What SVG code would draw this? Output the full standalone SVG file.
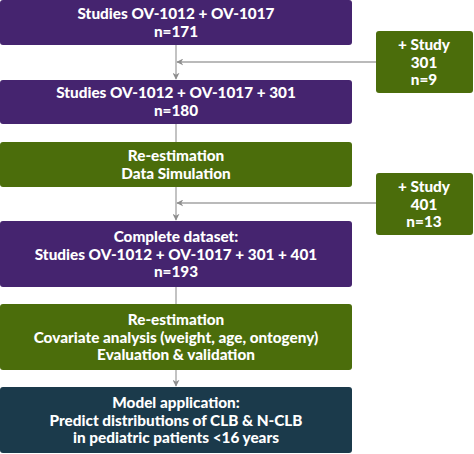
<svg xmlns="http://www.w3.org/2000/svg" width="474" height="454" viewBox="0 0 474 454">
<style>
text{font-family:Lato,"Open Sans",sans-serif;font-weight:900;font-size:15.3px;fill:#ffffff;text-anchor:middle}
.p{fill:#45246F}
.g{fill:#4B6D0B}
.d{fill:#1B3A4B}
.c{stroke:#A3A3A3;stroke-width:1.3;fill:none}
</style>
<defs>
<marker id="ah" viewBox="0 0 10 10" refX="9" refY="5" markerWidth="7" markerHeight="7" orient="auto" markerUnits="userSpaceOnUse">
<path d="M0,0 L10,5 L0,10 L3,5 Z" fill="#8E8E8E"/>
</marker>
</defs>
<rect width="474" height="454" fill="#ffffff"/>
<g id="connectors">
<line class="c" x1="176" y1="45" x2="176" y2="79" marker-end="url(#ah)"/>
<line class="c" x1="376" y1="62" x2="177" y2="62" marker-end="url(#ah)"/>
<line class="c" x1="176" y1="124" x2="176" y2="142"/>
<line class="c" x1="176" y1="187" x2="176" y2="220" marker-end="url(#ah)"/>
<line class="c" x1="376" y1="203" x2="177" y2="203" marker-end="url(#ah)"/>
<line class="c" x1="176" y1="287" x2="176" y2="304"/>
<line class="c" x1="176" y1="370" x2="176" y2="386" marker-end="url(#ah)"/>
</g>
<g id="n1"><rect class="p" x="0" y="0" width="352" height="45" rx="3"/>
<text x="176" y="19">Studies OV-1012 + OV-1017</text><text x="176" y="37">n=171</text></g>
<g id="s301"><rect class="g" x="376" y="31" width="97" height="62" rx="3"/>
<text x="424" y="50">+ Study</text><text x="424" y="67.5">301</text><text x="424" y="85">n=9</text></g>
<g id="n2"><rect class="p" x="0" y="80" width="352" height="44" rx="3"/>
<text x="176" y="98">Studies OV-1012 + OV-1017 + 301</text><text x="176" y="116">n=180</text></g>
<g id="n3"><rect class="g" x="0" y="142" width="352" height="45" rx="3"/>
<text x="176" y="161">Re-estimation</text><text x="176" y="178.5">Data Simulation</text></g>
<g id="s401"><rect class="g" x="376" y="173" width="97" height="62" rx="3"/>
<text x="424" y="192">+ Study</text><text x="424" y="209.5">401</text><text x="424" y="227">n=13</text></g>
<g id="n4"><rect class="p" x="0" y="221" width="352" height="66" rx="3"/>
<text x="176" y="242">Complete dataset:</text><text x="176" y="259.5">Studies OV-1012 + OV-1017 + 301 + 401</text><text x="176" y="277">n=193</text></g>
<g id="n5"><rect class="g" x="0" y="304" width="352" height="66" rx="3"/>
<text x="176" y="325">Re-estimation</text><text x="176" y="342.5">Covariate analysis (weight, age, ontogeny)</text><text x="176" y="360">Evaluation &amp; validation</text></g>
<g id="n6"><rect class="d" x="0" y="387" width="352" height="66" rx="3"/>
<text x="176" y="408">Model application:</text><text x="176" y="425.5">Predict distributions of CLB &amp; N-CLB</text><text x="176" y="443">in pediatric patients &lt;16 years</text></g>
</svg>
